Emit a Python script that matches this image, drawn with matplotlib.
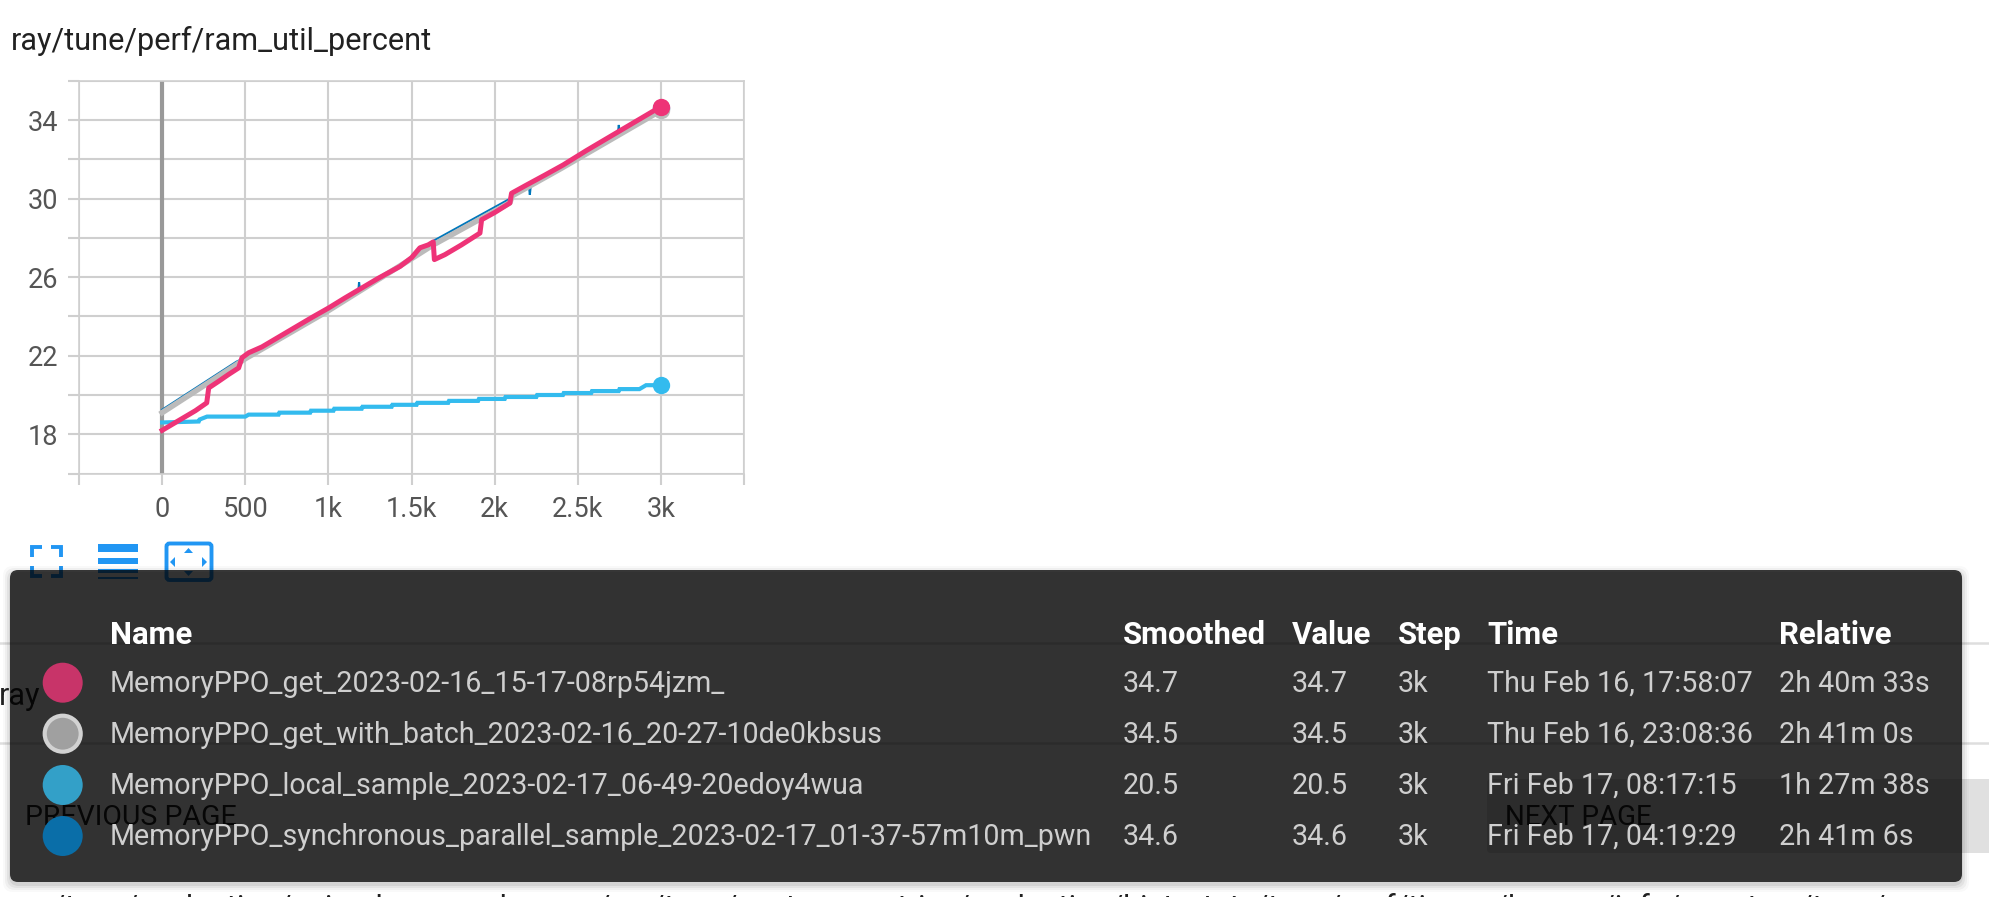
import matplotlib
matplotlib.use("Agg")
import matplotlib.pyplot as plt
from matplotlib.patches import FancyBboxPatch, Rectangle, Circle, Polygon

plt.rcParams['font.family'] = ['Roboto', 'DejaVu Sans']

W, H = 1989, 897

# values
get_steps = [0, 60, 130, 200, 268, 280, 340, 400, 460, 480, 520, 600, 700, 800, 900, 1000, 1100, 1200, 1300, 1430,
             1500, 1550, 1600, 1630, 1637, 1700, 1800, 1911, 1921, 2000, 2091, 2101, 2191, 2300, 2411, 2550, 2700, 2850, 3000]
get_vals = [18.2, 18.5, 18.85, 19.2, 19.6, 20.36, 20.7, 21.05, 21.38, 21.9, 22.15, 22.45, 22.95, 23.45, 23.95, 24.43, 24.95, 25.45, 25.95, 26.55,
            27.0, 27.5, 27.65, 27.8, 26.9, 27.15, 27.65, 28.25, 28.93, 29.3, 29.78, 30.28, 30.7, 31.2, 31.72, 32.45, 33.2, 33.95, 34.7]

batch_steps = [0, 447, 500, 1000, 1500, 1630, 2091, 2105, 2400, 3000]
batch_vals = [19.1, 21.55, 21.85, 24.3, 26.95, 27.65, 29.8, 30.15, 31.55, 34.5]

local_steps = [0, 220, 225, 270, 500, 520, 700, 705, 890, 895, 1030, 1035, 1200, 1205, 1380, 1385, 1530, 1535, 1720, 1725,
               1900, 1905, 2060, 2065, 2250, 2255, 2410, 2415, 2580, 2585, 2745, 2750, 2870, 2910, 3000]
local_vals = [18.6, 18.65, 18.75, 18.9, 18.9, 19.0, 19.0, 19.1, 19.1, 19.2, 19.2, 19.3, 19.3, 19.4, 19.4, 19.5, 19.5, 19.6, 19.6, 19.7,
              19.7, 19.8, 19.8, 19.9, 19.9, 20.0, 20.0, 20.1, 20.1, 20.2, 20.2, 20.3, 20.3, 20.5, 20.5]

sync_steps = [0, 447, 500, 1000, 1180, 1184, 1190, 1500, 1630, 2091, 2105, 2205, 2211, 2217, 2400, 2740, 2746, 2752, 3000]
sync_vals = [19.25, 21.7, 21.9, 24.35, 25.3, 25.75, 25.35, 27.0, 27.85, 30.0, 30.2, 30.7, 30.2, 30.7, 31.6, 33.3, 33.76, 33.3, 34.6]

x_ticks = [-500, 0, 500, 1000, 1500, 2000, 2500, 3000, 3497]
x_labels = ['', '0', '500', '1k', '1.5k', '2k', '2.5k', '3k', '']
y_ticks = [16, 18, 20, 22, 24, 26, 28, 30, 32, 34, 36]
y_labels = ['', '18', '', '22', '', '26', '', '30', '', '34', '']

columns = ['Name', 'Smoothed', 'Value', 'Step', 'Time', 'Relative']
names = ['MemoryPPO_get_2023-02-16_15-17-08rp54jzm_',
         'MemoryPPO_get_with_batch_2023-02-16_20-27-10de0kbsus',
         'MemoryPPO_local_sample_2023-02-17_06-49-20edoy4wua',
         'MemoryPPO_synchronous_parallel_sample_2023-02-17_01-37-57m10m_pwn']
smoothed = ['34.7', '34.5', '20.5', '34.6']
value = ['34.7', '34.5', '20.5', '34.6']
step = ['3k', '3k', '3k', '3k']
time_col = ['Thu Feb 16, 17:58:07', 'Thu Feb 16, 23:08:36', 'Fri Feb 17, 08:17:15', 'Fri Feb 17, 04:19:29']
relative = ['2h 40m 33s', '2h 41m 0s', '1h 27m 38s', '2h 41m 6s']

GRID = '#cfcfcf'
PINK = '#ee3377'
GREY = '#bbbbbb'
SKY = '#33bbee'
BLUE = '#0077bb'
BLUEBTN = '#2196f3'

fig = plt.figure(figsize=(W / 100, H / 100), dpi=100, facecolor='white')

# page level stuff in pixel coords
page = fig.add_axes([0, 0, 1, 1], zorder=0)
page.set_xlim(0, W)
page.set_ylim(H, 0)
page.axis('off')

page.text(11, 50, 'ray/tune/perf/ram_util_percent', fontsize=22.1, color='#212121', va='baseline')

# chart
ax = fig.add_axes([79 / W, 1 - 473.5 / H, (743.7 - 79) / W, (473.5 - 81) / H], zorder=1)
ax.patch.set_alpha(0)
ax.set_xlim(-500, 3497)
ax.set_ylim(16, 36)
ax.set_xticks(x_ticks)
ax.set_xticklabels(x_labels)
ax.set_yticks(y_ticks)
ax.set_yticklabels(y_labels)
ax.grid(True, color=GRID, lw=1.5)
ax.set_axisbelow(True)
ax.tick_params(axis='x', length=8, width=1.5, color=GRID, pad=8, labelsize=19.5, labelcolor='#555555')
ax.tick_params(axis='y', length=8, width=1.5, color=GRID, pad=7, labelsize=19.5, labelcolor='#555555')
for s in ax.spines.values():
    s.set_color(GRID)
    s.set_linewidth(1.2)
ax.axvline(0, color='#999999', lw=3, zorder=1.5)

ax.plot(sync_steps, sync_vals, color=BLUE, lw=1.5, zorder=2, solid_joinstyle='miter')
ax.plot(sync_steps[-1], sync_vals[-1], 'o', color=BLUE, ms=12.5, mew=0, zorder=2, clip_on=False)
ax.plot(local_steps, local_vals, color=SKY, lw=3, zorder=3, solid_joinstyle='miter')
ax.plot(local_steps[-1], local_vals[-1], 'o', color=SKY, ms=12.5, mew=0, zorder=3, clip_on=False)
ax.plot(batch_steps, batch_vals, color=GREY, lw=4, zorder=4)
ax.plot(batch_steps[-1], batch_vals[-1], 'o', color=GREY, ms=12.5, mew=0, zorder=4, clip_on=False)
ax.plot(get_steps, get_vals, color=PINK, lw=3.6, zorder=5)
ax.plot(get_steps[-1], get_vals[-1], 'o', color=PINK, ms=12.5, mew=0, zorder=5, clip_on=False)

# toolbar icons and page bits under the tooltip
top = fig.add_axes([0, 0, 1, 1], zorder=2)
top.set_xlim(0, W)
top.set_ylim(H, 0)
top.axis('off')
top.patch.set_alpha(0)

for dx, dy in [(1, 1), (-1, 1), (1, -1), (-1, -1)]:
    cx = 32 if dx == 1 else 61
    cy = 547 if dy == 1 else 576
    top.plot([cx + dx * 10, cx, cx], [cy, cy, cy + dy * 10], color=BLUEBTN, lw=2.8, solid_joinstyle='miter',
             solid_capstyle='butt')
for y0, h in [(544, 8), (558, 6), (569, 4), (577, 2)]:
    top.add_patch(Rectangle((98, y0), 40, h, color=BLUEBTN, lw=0))
top.add_patch(FancyBboxPatch((166.5, 543.5), 45, 36.5, boxstyle='round,pad=0,rounding_size=3', fc='none', ec=BLUEBTN, lw=2.8))
top.add_patch(Polygon([(184, 553), (193, 553), (188.5, 548)], color=BLUEBTN, lw=0))
top.add_patch(Polygon([(184, 571), (193, 571), (188.5, 576)], color=BLUEBTN, lw=0))
top.add_patch(Polygon([(175, 557), (175, 567), (170, 562)], color=BLUEBTN, lw=0))
top.add_patch(Polygon([(202, 557), (202, 567), (207, 562)], color=BLUEBTN, lw=0))

for y in [642.7, 743]:
    top.plot([0, W], [y, y], color='#dedede', lw=1.8)
top.text(-1, 705, 'ray', fontsize=22.1, color='#212121', va='baseline')
top.text(25, 825, 'PREVIOUS PAGE', fontsize=20.5, color='#212121', va='baseline')
top.add_patch(FancyBboxPatch((1487, 779), 560, 74, boxstyle='round,pad=0,rounding_size=4', fc='#e0e0e0', ec='none'))
top.text(1505, 825, 'NEXT PAGE', fontsize=20, color='#212121', va='baseline')
top.text(12, 917, 'ray/tune/evaluation/episode_reward_mean/ray/tune/custom_metrics/evaluation/hist_stats/tune/perf/timers/learner/info/counters/tune/',
         fontsize=22.1, color='#212121', va='baseline')

# tooltip
for grow, a in [(7, 0.025), (5, 0.04), (3, 0.05), (1, 0.07)]:
    top.add_patch(FancyBboxPatch((10 - grow, 570 - grow + 3), 1952 + 2 * grow, 312 + 2 * grow,
                                 boxstyle='round,pad=0,rounding_size=10', fc='black', ec='none', alpha=a, zorder=5))
top.add_patch(FancyBboxPatch((10, 570), 1952, 312, boxstyle='round,pad=0,rounding_size=8',
                             fc='black', ec='none', alpha=0.76, zorder=6))

col_x = [110, 1123, 1292, 1397.5, 1487.5, 1779]
for x, c in zip(col_x, columns):
    top.text(x, 644, c, fontsize=22.4, fontweight='bold', color='white', va='baseline', zorder=7)
row_y = [691.7, 742.7, 793.7, 845]
dot_y = [682.7, 733.7, 785, 836]
dot_c = ['#c83469', '#a0a0a0', '#33a0c8', '#0a6ea8']
for i in range(4):
    if i == 1:
        top.add_patch(Circle((62.7, dot_y[i]), 18, fc=dot_c[i], ec='#d2d2d2', lw=3, zorder=7))
    else:
        top.add_patch(Circle((62.7, dot_y[i]), 20, fc=dot_c[i], ec='none', zorder=7))
    row = [names[i], smoothed[i], value[i], step[i], time_col[i], relative[i]]
    for x, t in zip(col_x, row):
        top.text(x, row_y[i], t, fontsize=20.65, color='#cfcfcf', va='baseline', zorder=7)

fig.savefig('out.png', dpi=100)
